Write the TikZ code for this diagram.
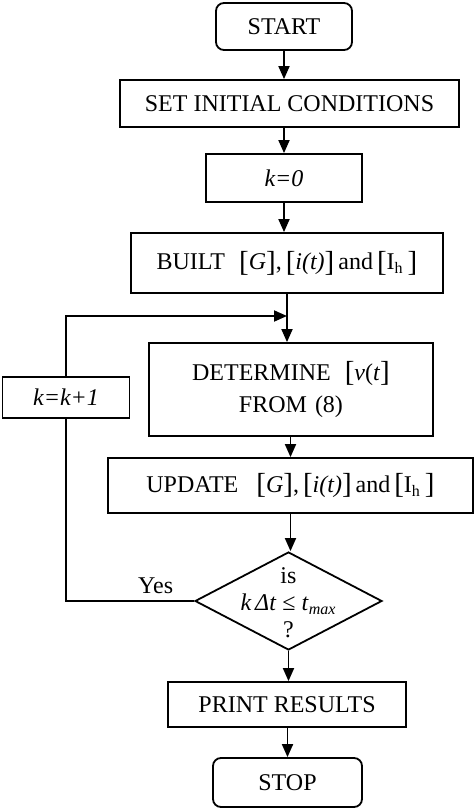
\documentclass[tikz,border=0pt]{standalone}
\usepackage{fontspec}
\setmainfont{Liberation Serif}
\usetikzlibrary{arrows.meta,shapes.geometric}
\newcommand{\obr}{{\fontsize{14.5}{14}\selectfont\raisebox{-0.6pt}{[}}}
\newcommand{\cbr}{{\fontsize{14.5}{14}\selectfont\raisebox{-0.6pt}{]}}}

\begin{document}
\begin{tikzpicture}[x=0.5pt, y=-0.5pt, line width=0.9pt,
  font=\fontsize{12}{14}\selectfont,
  box/.style={draw, rectangle, inner sep=0pt, align=center},
  term/.style={box, rounded corners=4pt},
  arr/.style={-{Triangle[length=6.5pt,width=5.5pt]}}]
  \useasboundingbox (0,0) rectangle (474,808);
  \node [term, minimum width=68pt, minimum height=23.5pt] (start) at (284,26.5) {START};
  \node [box, minimum width=169.5pt, minimum height=23.5pt] (init) at (289.5,103.5) {SET INITIAL CONDITIONS};
  \node [box, minimum width=78pt, minimum height=24pt] (kzero) at (284,178) {\textit{k=0}};
  \node [box, minimum width=156pt, minimum height=30pt] (build) at (287,263)
    {BUILT\,\, \obr\textit{G}\cbr,\,\obr\textit{i(t)}\cbr\,and\,\obr I\textsubscript{h}\,\cbr};
  \node [box, minimum width=142pt, minimum height=46.5pt] (det) at (291,389.5)
    {DETERMINE\,\, \obr\textit{v}(\textit{t}\cbr\\[2pt] FROM\,\,(8)};
  \node [box, minimum width=63.5pt, minimum height=20.5pt] (kinc) at (66,397.5) {\textit{k=k+1}};
  \node [box, minimum width=182.5pt, minimum height=27.5pt] (update) at (290.5,485.5)
    {UPDATE\,\,\, \obr\textit{G}\cbr,\,\obr\textit{i(t)}\cbr\,and\,\obr I\textsubscript{h}\,\cbr};
  \node [draw, diamond, inner sep=0pt, minimum width=93.5pt, minimum height=49pt] (test) at (288.5,601) {};
  \node [align=center, inner sep=0pt] (testtext) at (288.5,603)
    {is\\[-0.5pt] \textit{k$\,$Δt} ≤ \textit{t}\textsubscript{\textit{max}}\\[-0.5pt] ?};
  \node [box, minimum width=119pt, minimum height=22.5pt] (print) at (287,704.5) {PRINT RESULTS};
  \node [term, minimum width=74.5pt, minimum height=24.5pt] (stop) at (287.5,782.5) {STOP};
  \coordinate (join) at (build.south |- 0,316);

  \draw [arr] (start) -- (start |- init.north);
  \draw [arr] (init.south -| kzero) -- (kzero);
  \draw [arr] (kzero) -- (kzero |- build.north);
  \draw [arr] (build) -- (build |- det.north);
  \draw [arr] (det.south -| update) -- (update);
  \draw [arr] (update) -- (update |- test.north);
  \draw [arr] (test) -- (test |- print.north);
  \draw [arr] (print.south -| stop) -- (stop);
  \draw (test.west) -| node [pos=0.15, above] {Yes} (kinc.south);
  \draw [arr] (kinc.north) |- (join);
\end{tikzpicture}
\end{document}
